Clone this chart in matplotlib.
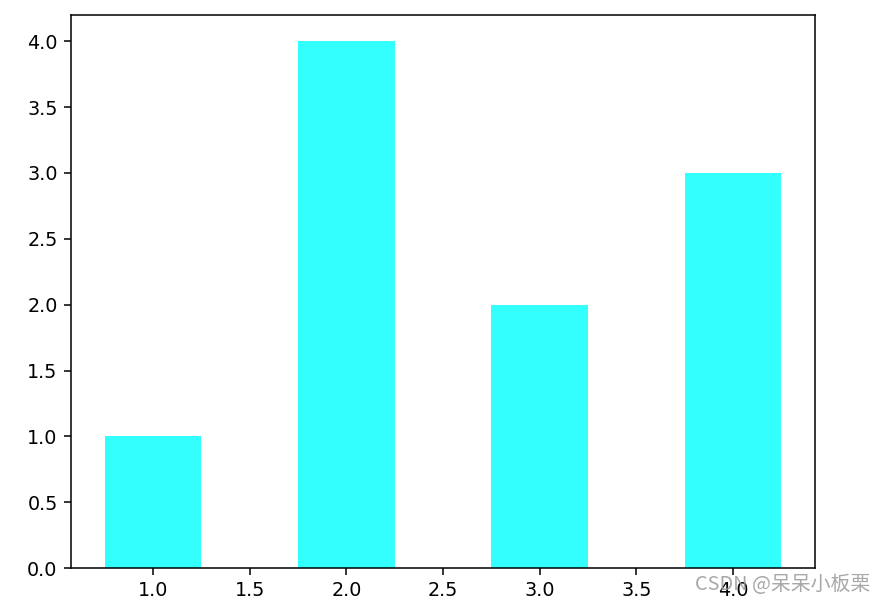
import matplotlib
matplotlib.use('Agg')
import matplotlib.pyplot as plt

x = [1, 2, 3, 4]
heights = [1, 4, 2, 3]

fig = plt.figure(figsize=(884 / 138, 603 / 138), dpi=138)
ax = fig.add_axes([71 / 884, 35 / 603, (815 - 71) / 884, (568 - 15) / 603])

ax.bar(x, heights, width=0.5, color='cyan', alpha=0.8)

# watermark (overlaps the 4.0 label in the original too)
fig.text(870 / 884, 13 / 603, 'CSDN @呆呆小板栗', ha='right', va='baseline',
         fontsize=10.4, color='#999999', alpha=0.85,
         family=['Noto Sans CJK SC', 'DejaVu Sans'])

fig.savefig('out.png', dpi=138)
